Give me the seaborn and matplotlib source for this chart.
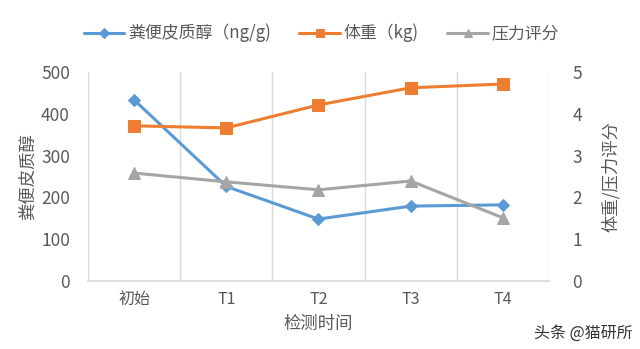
import matplotlib
matplotlib.use("Agg")
import matplotlib.pyplot as plt
import seaborn as sns
import pandas as pd

sns.set_theme(style="white")
plt.rcParams['font.family'] = ['Noto Sans CJK SC', 'DejaVu Sans']

# Data
categories = ["初始", "T1", "T2", "T3", "T4"]
cortisol = [433, 226, 148, 179, 182]        # 粪便皮质醇 (ng/g)
weight = [3.71, 3.66, 4.21, 4.62, 4.71]     # 体重 (kg)
stress = [2.58, 2.37, 2.18, 2.39, 1.51]     # 压力评分

df = pd.DataFrame({"pos": range(len(categories)), "cat": categories,
                   "cortisol": cortisol, "weight": weight, "stress": stress})

BLUE = "#5B9BD5"
ORANGE = "#ED7D31"
GRAY = "#A5A5A5"
TXT = "#595959"
GRID = "#D9D9D9"

fig = plt.figure(figsize=(6.4, 3.49), dpi=100)
ax = fig.add_axes([0.1375, 0.195, 0.7203, 0.599])
ax2 = ax.twinx()

sns.lineplot(data=df, x="pos", y="cortisol", ax=ax, color=BLUE, lw=2.2,
             marker="D", markersize=6, markeredgecolor=BLUE, label="粪便皮质醇（ng/g)",
             legend=False)
sns.lineplot(data=df, x="pos", y="weight", ax=ax2, color=ORANGE, lw=2.2,
             marker="s", markersize=8, markeredgecolor=ORANGE, label="体重（kg)",
             legend=False)
sns.lineplot(data=df, x="pos", y="stress", ax=ax2, color=GRAY, lw=2.2,
             marker="^", markersize=8, markeredgecolor=GRAY, label="压力评分",
             legend=False)

n = len(categories)
ax.set_xlim(-0.5, n - 0.5)
ax.set_ylim(0, 500)
ax2.set_ylim(0, 5)
ax.set_yticks(range(0, 501, 100))
ax2.set_yticks(range(0, 6))
ax.set_xticks(range(n))
ax.set_xticklabels(categories)

# category boundary grid lines
for b in range(n + 1):
    ax.axvline(b - 0.5, color=GRID, lw=1, zorder=0)

for a in (ax, ax2):
    for s in a.spines.values():
        s.set_visible(False)
    a.tick_params(length=0, colors=TXT, labelsize=12.5)
ax.spines["bottom"].set_visible(True)
ax.spines["bottom"].set_color(GRID)
ax.tick_params(axis="y", pad=13)
ax2.tick_params(axis="y", pad=17)
ax.tick_params(axis="x", pad=7, labelsize=11.5)

ax.set_xlabel("检测时间", color=TXT, fontsize=12.5, labelpad=5)
ax.set_ylabel("粪便皮质醇", color=TXT, fontsize=12.5, labelpad=3)
ax2.set_ylabel("体重/压力评分", color=TXT, fontsize=12.5, labelpad=14)

h1, l1 = ax.get_legend_handles_labels()
h2, l2 = ax2.get_legend_handles_labels()
leg = fig.legend(h1 + h2, l1 + l2, loc="center", bbox_to_anchor=(0.502, 0.905),
                 ncol=3, frameon=False, fontsize=12.2, handlelength=2.4,
                 columnspacing=1.7, handletextpad=0.2, markerscale=0.8)
for t in leg.get_texts():
    t.set_color(TXT)

fig.text(0.988, 0.045, "头条 @猫研所", ha="right", va="center", fontsize=11.5, color="#333333")

fig.savefig("out.png", dpi=100)
